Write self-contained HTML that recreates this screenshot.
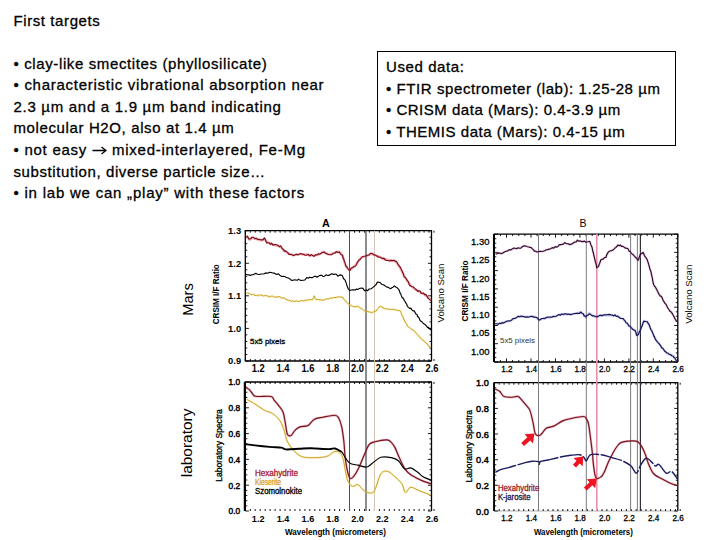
<!DOCTYPE html>
<html><head><meta charset="utf-8">
<style>
html,body{margin:0;padding:0;background:#fff;}
body{width:720px;height:540px;position:relative;overflow:hidden;font-family:"Liberation Sans",sans-serif;color:#000;}
.t{position:absolute;white-space:nowrap;font-size:15px;line-height:18px;transform-origin:0 0;-webkit-text-stroke:0.3px #000;}
.ar{display:inline-block;font-size:15px;}
#box{position:absolute;left:377px;top:51px;width:297px;height:92.5px;border:1px solid #000;}
svg{position:absolute;left:0;top:0;}
svg text{font-family:"Liberation Sans",sans-serif;}
svg text.b{stroke:#000;stroke-width:0.3px;}
svg text.b2{stroke:#000;stroke-width:0.45px;}
svg text.r{stroke:#a01c2c;stroke-width:0.3px;}
svg text.y{stroke:#d8a020;stroke-width:0.3px;}
svg text.n{stroke:#141450;stroke-width:0.3px;}
</style></head><body>
<div class="t" id="l0" style="left:13.5px;top:11.75px;letter-spacing:0.59px">First targets</div>
<div class="t" id="l1" style="left:13.5px;top:54.8px;letter-spacing:0.62px">• clay-like smectites (phyllosilicate)</div>
<div class="t" id="l2" style="left:13.5px;top:76.35px;letter-spacing:0.73px">• characteristic vibrational absorption near</div>
<div class="t" id="l3" style="left:13.5px;top:97.9px;letter-spacing:0.71px">2.3 µm and a 1.9 µm band indicating</div>
<div class="t" id="l4" style="left:13.5px;top:119.45px;letter-spacing:0.62px">molecular H2O, also at 1.4 µm</div>
<div class="t" id="l5" style="left:13.5px;top:141px;letter-spacing:0.75px">• not easy <svg style="position:static;display:inline-block;vertical-align:0px" width="15" height="9" viewBox="0 0 15 9"><path d="M0.5 4.5H14M9.5 1L14 4.5L9.5 8" fill="none" stroke="#000" stroke-width="1.3"/></svg> mixed-interlayered, Fe-Mg</div>
<div class="t" id="l6" style="left:13.5px;top:162.55px;letter-spacing:0.59px">substitution, diverse particle size…</div>
<div class="t" id="l7" style="left:13.5px;top:184.1px;letter-spacing:0.78px">• in lab we can „play” with these factors</div>
<div id="box"></div>
<div class="t" id="b0" style="left:386px;top:58px;letter-spacing:0.59px">Used data:</div>
<div class="t" id="b1" style="left:386px;top:79.5px;letter-spacing:0.58px">• FTIR spectrometer (lab): 1.25-28 µm</div>
<div class="t" id="b2" style="left:386px;top:101px;letter-spacing:0.51px">• CRISM data (Mars): 0.4-3.9 µm</div>
<div class="t" id="b3" style="left:386px;top:122.5px;letter-spacing:0.53px">• THEMIS data (Mars): 0.4-15 µm</div>
<svg width="720" height="540" viewBox="0 0 720 540">
<g stroke="#000" stroke-width="0.9">
<path d="M245.3 361.0V230.7H431.5V361.0" fill="none" stroke="#000" stroke-width="1.3"/>
<line x1="245.3" y1="361.0" x2="431.5" y2="361.0" stroke="#000" stroke-width="1.3"/>
<line x1="245.3" y1="361.0" x2="248.9" y2="361.0"/>
<line x1="431.5" y1="361.0" x2="427.9" y2="361.0"/>
<line x1="245.3" y1="354.5" x2="247.3" y2="354.5"/>
<line x1="431.5" y1="354.5" x2="429.5" y2="354.5"/>
<line x1="245.3" y1="348.0" x2="247.3" y2="348.0"/>
<line x1="431.5" y1="348.0" x2="429.5" y2="348.0"/>
<line x1="245.3" y1="341.5" x2="247.3" y2="341.5"/>
<line x1="431.5" y1="341.5" x2="429.5" y2="341.5"/>
<line x1="245.3" y1="334.9" x2="247.3" y2="334.9"/>
<line x1="431.5" y1="334.9" x2="429.5" y2="334.9"/>
<line x1="245.3" y1="328.4" x2="248.9" y2="328.4"/>
<line x1="431.5" y1="328.4" x2="427.9" y2="328.4"/>
<line x1="245.3" y1="321.9" x2="247.3" y2="321.9"/>
<line x1="431.5" y1="321.9" x2="429.5" y2="321.9"/>
<line x1="245.3" y1="315.4" x2="247.3" y2="315.4"/>
<line x1="431.5" y1="315.4" x2="429.5" y2="315.4"/>
<line x1="245.3" y1="308.9" x2="247.3" y2="308.9"/>
<line x1="431.5" y1="308.9" x2="429.5" y2="308.9"/>
<line x1="245.3" y1="302.4" x2="247.3" y2="302.4"/>
<line x1="431.5" y1="302.4" x2="429.5" y2="302.4"/>
<line x1="245.3" y1="295.8" x2="248.9" y2="295.8"/>
<line x1="431.5" y1="295.8" x2="427.9" y2="295.8"/>
<line x1="245.3" y1="289.3" x2="247.3" y2="289.3"/>
<line x1="431.5" y1="289.3" x2="429.5" y2="289.3"/>
<line x1="245.3" y1="282.8" x2="247.3" y2="282.8"/>
<line x1="431.5" y1="282.8" x2="429.5" y2="282.8"/>
<line x1="245.3" y1="276.3" x2="247.3" y2="276.3"/>
<line x1="431.5" y1="276.3" x2="429.5" y2="276.3"/>
<line x1="245.3" y1="269.8" x2="247.3" y2="269.8"/>
<line x1="431.5" y1="269.8" x2="429.5" y2="269.8"/>
<line x1="245.3" y1="263.3" x2="248.9" y2="263.3"/>
<line x1="431.5" y1="263.3" x2="427.9" y2="263.3"/>
<line x1="245.3" y1="256.8" x2="247.3" y2="256.8"/>
<line x1="431.5" y1="256.8" x2="429.5" y2="256.8"/>
<line x1="245.3" y1="250.2" x2="247.3" y2="250.2"/>
<line x1="431.5" y1="250.2" x2="429.5" y2="250.2"/>
<line x1="245.3" y1="243.7" x2="247.3" y2="243.7"/>
<line x1="431.5" y1="243.7" x2="429.5" y2="243.7"/>
<line x1="245.3" y1="237.2" x2="247.3" y2="237.2"/>
<line x1="431.5" y1="237.2" x2="429.5" y2="237.2"/>
<line x1="245.3" y1="230.7" x2="248.9" y2="230.7"/>
<line x1="431.5" y1="230.7" x2="427.9" y2="230.7"/>
<line x1="245.3" y1="361.0" x2="245.3" y2="359.0"/>
<line x1="245.3" y1="230.7" x2="245.3" y2="232.7"/>
<line x1="250.3" y1="361.0" x2="250.3" y2="359.0"/>
<line x1="250.3" y1="230.7" x2="250.3" y2="232.7"/>
<line x1="255.2" y1="361.0" x2="255.2" y2="359.0"/>
<line x1="255.2" y1="230.7" x2="255.2" y2="232.7"/>
<line x1="260.2" y1="361.0" x2="260.2" y2="359.0"/>
<line x1="260.2" y1="230.7" x2="260.2" y2="232.7"/>
<line x1="265.2" y1="361.0" x2="265.2" y2="359.0"/>
<line x1="265.2" y1="230.7" x2="265.2" y2="232.7"/>
<line x1="270.1" y1="361.0" x2="270.1" y2="359.0"/>
<line x1="270.1" y1="230.7" x2="270.1" y2="232.7"/>
<line x1="275.1" y1="361.0" x2="275.1" y2="359.0"/>
<line x1="275.1" y1="230.7" x2="275.1" y2="232.7"/>
<line x1="280.1" y1="361.0" x2="280.1" y2="359.0"/>
<line x1="280.1" y1="230.7" x2="280.1" y2="232.7"/>
<line x1="285.0" y1="361.0" x2="285.0" y2="359.0"/>
<line x1="285.0" y1="230.7" x2="285.0" y2="232.7"/>
<line x1="290.0" y1="361.0" x2="290.0" y2="359.0"/>
<line x1="290.0" y1="230.7" x2="290.0" y2="232.7"/>
<line x1="295.0" y1="361.0" x2="295.0" y2="359.0"/>
<line x1="295.0" y1="230.7" x2="295.0" y2="232.7"/>
<line x1="299.9" y1="361.0" x2="299.9" y2="359.0"/>
<line x1="299.9" y1="230.7" x2="299.9" y2="232.7"/>
<line x1="304.9" y1="361.0" x2="304.9" y2="359.0"/>
<line x1="304.9" y1="230.7" x2="304.9" y2="232.7"/>
<line x1="309.8" y1="361.0" x2="309.8" y2="359.0"/>
<line x1="309.8" y1="230.7" x2="309.8" y2="232.7"/>
<line x1="314.8" y1="361.0" x2="314.8" y2="359.0"/>
<line x1="314.8" y1="230.7" x2="314.8" y2="232.7"/>
<line x1="319.8" y1="361.0" x2="319.8" y2="359.0"/>
<line x1="319.8" y1="230.7" x2="319.8" y2="232.7"/>
<line x1="324.7" y1="361.0" x2="324.7" y2="359.0"/>
<line x1="324.7" y1="230.7" x2="324.7" y2="232.7"/>
<line x1="329.7" y1="361.0" x2="329.7" y2="359.0"/>
<line x1="329.7" y1="230.7" x2="329.7" y2="232.7"/>
<line x1="334.7" y1="361.0" x2="334.7" y2="359.0"/>
<line x1="334.7" y1="230.7" x2="334.7" y2="232.7"/>
<line x1="339.6" y1="361.0" x2="339.6" y2="359.0"/>
<line x1="339.6" y1="230.7" x2="339.6" y2="232.7"/>
<line x1="344.6" y1="361.0" x2="344.6" y2="359.0"/>
<line x1="344.6" y1="230.7" x2="344.6" y2="232.7"/>
<line x1="349.6" y1="361.0" x2="349.6" y2="359.0"/>
<line x1="349.6" y1="230.7" x2="349.6" y2="232.7"/>
<line x1="354.5" y1="361.0" x2="354.5" y2="359.0"/>
<line x1="354.5" y1="230.7" x2="354.5" y2="232.7"/>
<line x1="359.5" y1="361.0" x2="359.5" y2="359.0"/>
<line x1="359.5" y1="230.7" x2="359.5" y2="232.7"/>
<line x1="364.5" y1="361.0" x2="364.5" y2="359.0"/>
<line x1="364.5" y1="230.7" x2="364.5" y2="232.7"/>
<line x1="369.4" y1="361.0" x2="369.4" y2="359.0"/>
<line x1="369.4" y1="230.7" x2="369.4" y2="232.7"/>
<line x1="374.4" y1="361.0" x2="374.4" y2="359.0"/>
<line x1="374.4" y1="230.7" x2="374.4" y2="232.7"/>
<line x1="379.4" y1="361.0" x2="379.4" y2="359.0"/>
<line x1="379.4" y1="230.7" x2="379.4" y2="232.7"/>
<line x1="384.3" y1="361.0" x2="384.3" y2="359.0"/>
<line x1="384.3" y1="230.7" x2="384.3" y2="232.7"/>
<line x1="389.3" y1="361.0" x2="389.3" y2="359.0"/>
<line x1="389.3" y1="230.7" x2="389.3" y2="232.7"/>
<line x1="394.3" y1="361.0" x2="394.3" y2="359.0"/>
<line x1="394.3" y1="230.7" x2="394.3" y2="232.7"/>
<line x1="399.2" y1="361.0" x2="399.2" y2="359.0"/>
<line x1="399.2" y1="230.7" x2="399.2" y2="232.7"/>
<line x1="404.2" y1="361.0" x2="404.2" y2="359.0"/>
<line x1="404.2" y1="230.7" x2="404.2" y2="232.7"/>
<line x1="409.2" y1="361.0" x2="409.2" y2="359.0"/>
<line x1="409.2" y1="230.7" x2="409.2" y2="232.7"/>
<line x1="414.1" y1="361.0" x2="414.1" y2="359.0"/>
<line x1="414.1" y1="230.7" x2="414.1" y2="232.7"/>
<line x1="419.1" y1="361.0" x2="419.1" y2="359.0"/>
<line x1="419.1" y1="230.7" x2="419.1" y2="232.7"/>
<line x1="424.1" y1="361.0" x2="424.1" y2="359.0"/>
<line x1="424.1" y1="230.7" x2="424.1" y2="232.7"/>
<line x1="429.0" y1="361.0" x2="429.0" y2="359.0"/>
<line x1="429.0" y1="230.7" x2="429.0" y2="232.7"/>
<line x1="434.0" y1="361.0" x2="434.0" y2="359.0"/>
<line x1="434.0" y1="230.7" x2="434.0" y2="232.7"/>
<path d="M245.3 511.0V382.0H431.5V511.0" fill="none" stroke="#000" stroke-width="1.3"/>
<line x1="244.85000000000002" y1="382.0" x2="244.85000000000002" y2="511.0" stroke="#000" stroke-width="2.2"/>
<line x1="245.3" y1="511.0" x2="248.9" y2="511.0"/>
<line x1="431.5" y1="511.0" x2="427.9" y2="511.0"/>
<line x1="245.3" y1="505.8" x2="247.3" y2="505.8"/>
<line x1="431.5" y1="505.8" x2="429.5" y2="505.8"/>
<line x1="245.3" y1="500.7" x2="247.3" y2="500.7"/>
<line x1="431.5" y1="500.7" x2="429.5" y2="500.7"/>
<line x1="245.3" y1="495.5" x2="247.3" y2="495.5"/>
<line x1="431.5" y1="495.5" x2="429.5" y2="495.5"/>
<line x1="245.3" y1="490.4" x2="247.3" y2="490.4"/>
<line x1="431.5" y1="490.4" x2="429.5" y2="490.4"/>
<line x1="245.3" y1="485.2" x2="248.9" y2="485.2"/>
<line x1="431.5" y1="485.2" x2="427.9" y2="485.2"/>
<line x1="245.3" y1="480.0" x2="247.3" y2="480.0"/>
<line x1="431.5" y1="480.0" x2="429.5" y2="480.0"/>
<line x1="245.3" y1="474.9" x2="247.3" y2="474.9"/>
<line x1="431.5" y1="474.9" x2="429.5" y2="474.9"/>
<line x1="245.3" y1="469.7" x2="247.3" y2="469.7"/>
<line x1="431.5" y1="469.7" x2="429.5" y2="469.7"/>
<line x1="245.3" y1="464.6" x2="247.3" y2="464.6"/>
<line x1="431.5" y1="464.6" x2="429.5" y2="464.6"/>
<line x1="245.3" y1="459.4" x2="248.9" y2="459.4"/>
<line x1="431.5" y1="459.4" x2="427.9" y2="459.4"/>
<line x1="245.3" y1="454.2" x2="247.3" y2="454.2"/>
<line x1="431.5" y1="454.2" x2="429.5" y2="454.2"/>
<line x1="245.3" y1="449.1" x2="247.3" y2="449.1"/>
<line x1="431.5" y1="449.1" x2="429.5" y2="449.1"/>
<line x1="245.3" y1="443.9" x2="247.3" y2="443.9"/>
<line x1="431.5" y1="443.9" x2="429.5" y2="443.9"/>
<line x1="245.3" y1="438.8" x2="247.3" y2="438.8"/>
<line x1="431.5" y1="438.8" x2="429.5" y2="438.8"/>
<line x1="245.3" y1="433.6" x2="248.9" y2="433.6"/>
<line x1="431.5" y1="433.6" x2="427.9" y2="433.6"/>
<line x1="245.3" y1="428.4" x2="247.3" y2="428.4"/>
<line x1="431.5" y1="428.4" x2="429.5" y2="428.4"/>
<line x1="245.3" y1="423.3" x2="247.3" y2="423.3"/>
<line x1="431.5" y1="423.3" x2="429.5" y2="423.3"/>
<line x1="245.3" y1="418.1" x2="247.3" y2="418.1"/>
<line x1="431.5" y1="418.1" x2="429.5" y2="418.1"/>
<line x1="245.3" y1="413.0" x2="247.3" y2="413.0"/>
<line x1="431.5" y1="413.0" x2="429.5" y2="413.0"/>
<line x1="245.3" y1="407.8" x2="248.9" y2="407.8"/>
<line x1="431.5" y1="407.8" x2="427.9" y2="407.8"/>
<line x1="245.3" y1="402.6" x2="247.3" y2="402.6"/>
<line x1="431.5" y1="402.6" x2="429.5" y2="402.6"/>
<line x1="245.3" y1="397.5" x2="247.3" y2="397.5"/>
<line x1="431.5" y1="397.5" x2="429.5" y2="397.5"/>
<line x1="245.3" y1="392.3" x2="247.3" y2="392.3"/>
<line x1="431.5" y1="392.3" x2="429.5" y2="392.3"/>
<line x1="245.3" y1="387.2" x2="247.3" y2="387.2"/>
<line x1="431.5" y1="387.2" x2="429.5" y2="387.2"/>
<line x1="245.3" y1="382.0" x2="248.9" y2="382.0"/>
<line x1="431.5" y1="382.0" x2="427.9" y2="382.0"/>
<line x1="245.3" y1="511.0" x2="245.3" y2="509.0"/>
<line x1="245.3" y1="382.0" x2="245.3" y2="384.0"/>
<line x1="250.3" y1="511.0" x2="250.3" y2="509.0"/>
<line x1="250.3" y1="382.0" x2="250.3" y2="384.0"/>
<line x1="255.2" y1="511.0" x2="255.2" y2="509.0"/>
<line x1="255.2" y1="382.0" x2="255.2" y2="384.0"/>
<line x1="260.2" y1="511.0" x2="260.2" y2="509.0"/>
<line x1="260.2" y1="382.0" x2="260.2" y2="384.0"/>
<line x1="265.2" y1="511.0" x2="265.2" y2="509.0"/>
<line x1="265.2" y1="382.0" x2="265.2" y2="384.0"/>
<line x1="270.1" y1="511.0" x2="270.1" y2="509.0"/>
<line x1="270.1" y1="382.0" x2="270.1" y2="384.0"/>
<line x1="275.1" y1="511.0" x2="275.1" y2="509.0"/>
<line x1="275.1" y1="382.0" x2="275.1" y2="384.0"/>
<line x1="280.1" y1="511.0" x2="280.1" y2="509.0"/>
<line x1="280.1" y1="382.0" x2="280.1" y2="384.0"/>
<line x1="285.0" y1="511.0" x2="285.0" y2="509.0"/>
<line x1="285.0" y1="382.0" x2="285.0" y2="384.0"/>
<line x1="290.0" y1="511.0" x2="290.0" y2="509.0"/>
<line x1="290.0" y1="382.0" x2="290.0" y2="384.0"/>
<line x1="295.0" y1="511.0" x2="295.0" y2="509.0"/>
<line x1="295.0" y1="382.0" x2="295.0" y2="384.0"/>
<line x1="299.9" y1="511.0" x2="299.9" y2="509.0"/>
<line x1="299.9" y1="382.0" x2="299.9" y2="384.0"/>
<line x1="304.9" y1="511.0" x2="304.9" y2="509.0"/>
<line x1="304.9" y1="382.0" x2="304.9" y2="384.0"/>
<line x1="309.8" y1="511.0" x2="309.8" y2="509.0"/>
<line x1="309.8" y1="382.0" x2="309.8" y2="384.0"/>
<line x1="314.8" y1="511.0" x2="314.8" y2="509.0"/>
<line x1="314.8" y1="382.0" x2="314.8" y2="384.0"/>
<line x1="319.8" y1="511.0" x2="319.8" y2="509.0"/>
<line x1="319.8" y1="382.0" x2="319.8" y2="384.0"/>
<line x1="324.7" y1="511.0" x2="324.7" y2="509.0"/>
<line x1="324.7" y1="382.0" x2="324.7" y2="384.0"/>
<line x1="329.7" y1="511.0" x2="329.7" y2="509.0"/>
<line x1="329.7" y1="382.0" x2="329.7" y2="384.0"/>
<line x1="334.7" y1="511.0" x2="334.7" y2="509.0"/>
<line x1="334.7" y1="382.0" x2="334.7" y2="384.0"/>
<line x1="339.6" y1="511.0" x2="339.6" y2="509.0"/>
<line x1="339.6" y1="382.0" x2="339.6" y2="384.0"/>
<line x1="344.6" y1="511.0" x2="344.6" y2="509.0"/>
<line x1="344.6" y1="382.0" x2="344.6" y2="384.0"/>
<line x1="349.6" y1="511.0" x2="349.6" y2="509.0"/>
<line x1="349.6" y1="382.0" x2="349.6" y2="384.0"/>
<line x1="354.5" y1="511.0" x2="354.5" y2="509.0"/>
<line x1="354.5" y1="382.0" x2="354.5" y2="384.0"/>
<line x1="359.5" y1="511.0" x2="359.5" y2="509.0"/>
<line x1="359.5" y1="382.0" x2="359.5" y2="384.0"/>
<line x1="364.5" y1="511.0" x2="364.5" y2="509.0"/>
<line x1="364.5" y1="382.0" x2="364.5" y2="384.0"/>
<line x1="369.4" y1="511.0" x2="369.4" y2="509.0"/>
<line x1="369.4" y1="382.0" x2="369.4" y2="384.0"/>
<line x1="374.4" y1="511.0" x2="374.4" y2="509.0"/>
<line x1="374.4" y1="382.0" x2="374.4" y2="384.0"/>
<line x1="379.4" y1="511.0" x2="379.4" y2="509.0"/>
<line x1="379.4" y1="382.0" x2="379.4" y2="384.0"/>
<line x1="384.3" y1="511.0" x2="384.3" y2="509.0"/>
<line x1="384.3" y1="382.0" x2="384.3" y2="384.0"/>
<line x1="389.3" y1="511.0" x2="389.3" y2="509.0"/>
<line x1="389.3" y1="382.0" x2="389.3" y2="384.0"/>
<line x1="394.3" y1="511.0" x2="394.3" y2="509.0"/>
<line x1="394.3" y1="382.0" x2="394.3" y2="384.0"/>
<line x1="399.2" y1="511.0" x2="399.2" y2="509.0"/>
<line x1="399.2" y1="382.0" x2="399.2" y2="384.0"/>
<line x1="404.2" y1="511.0" x2="404.2" y2="509.0"/>
<line x1="404.2" y1="382.0" x2="404.2" y2="384.0"/>
<line x1="409.2" y1="511.0" x2="409.2" y2="509.0"/>
<line x1="409.2" y1="382.0" x2="409.2" y2="384.0"/>
<line x1="414.1" y1="511.0" x2="414.1" y2="509.0"/>
<line x1="414.1" y1="382.0" x2="414.1" y2="384.0"/>
<line x1="419.1" y1="511.0" x2="419.1" y2="509.0"/>
<line x1="419.1" y1="382.0" x2="419.1" y2="384.0"/>
<line x1="424.1" y1="511.0" x2="424.1" y2="509.0"/>
<line x1="424.1" y1="382.0" x2="424.1" y2="384.0"/>
<line x1="429.0" y1="511.0" x2="429.0" y2="509.0"/>
<line x1="429.0" y1="382.0" x2="429.0" y2="384.0"/>
<line x1="434.0" y1="511.0" x2="434.0" y2="509.0"/>
<line x1="434.0" y1="382.0" x2="434.0" y2="384.0"/>
<path d="M494.3 362.0V234.1H677.8V362.0" fill="none" stroke="#000" stroke-width="1.3"/>
<line x1="493.95" y1="234.1" x2="493.95" y2="362.0" stroke="#000" stroke-width="2"/>
<line x1="494.3" y1="362.0" x2="677.8" y2="362.0" stroke="#000" stroke-width="1.3"/>
<line x1="494.3" y1="362.0" x2="497.90000000000003" y2="362.0"/>
<line x1="677.8" y1="362.0" x2="674.1999999999999" y2="362.0"/>
<line x1="494.3" y1="357.4" x2="496.3" y2="357.4"/>
<line x1="677.8" y1="357.4" x2="675.8" y2="357.4"/>
<line x1="494.3" y1="352.9" x2="496.3" y2="352.9"/>
<line x1="677.8" y1="352.9" x2="675.8" y2="352.9"/>
<line x1="494.3" y1="348.3" x2="496.3" y2="348.3"/>
<line x1="677.8" y1="348.3" x2="675.8" y2="348.3"/>
<line x1="494.3" y1="343.7" x2="497.90000000000003" y2="343.7"/>
<line x1="677.8" y1="343.7" x2="674.1999999999999" y2="343.7"/>
<line x1="494.3" y1="339.2" x2="496.3" y2="339.2"/>
<line x1="677.8" y1="339.2" x2="675.8" y2="339.2"/>
<line x1="494.3" y1="334.6" x2="496.3" y2="334.6"/>
<line x1="677.8" y1="334.6" x2="675.8" y2="334.6"/>
<line x1="494.3" y1="330.0" x2="496.3" y2="330.0"/>
<line x1="677.8" y1="330.0" x2="675.8" y2="330.0"/>
<line x1="494.3" y1="325.5" x2="497.90000000000003" y2="325.5"/>
<line x1="677.8" y1="325.5" x2="674.1999999999999" y2="325.5"/>
<line x1="494.3" y1="320.9" x2="496.3" y2="320.9"/>
<line x1="677.8" y1="320.9" x2="675.8" y2="320.9"/>
<line x1="494.3" y1="316.3" x2="496.3" y2="316.3"/>
<line x1="677.8" y1="316.3" x2="675.8" y2="316.3"/>
<line x1="494.3" y1="311.8" x2="496.3" y2="311.8"/>
<line x1="677.8" y1="311.8" x2="675.8" y2="311.8"/>
<line x1="494.3" y1="307.2" x2="497.90000000000003" y2="307.2"/>
<line x1="677.8" y1="307.2" x2="674.1999999999999" y2="307.2"/>
<line x1="494.3" y1="302.6" x2="496.3" y2="302.6"/>
<line x1="677.8" y1="302.6" x2="675.8" y2="302.6"/>
<line x1="494.3" y1="298.1" x2="496.3" y2="298.1"/>
<line x1="677.8" y1="298.1" x2="675.8" y2="298.1"/>
<line x1="494.3" y1="293.5" x2="496.3" y2="293.5"/>
<line x1="677.8" y1="293.5" x2="675.8" y2="293.5"/>
<line x1="494.3" y1="288.9" x2="497.90000000000003" y2="288.9"/>
<line x1="677.8" y1="288.9" x2="674.1999999999999" y2="288.9"/>
<line x1="494.3" y1="284.3" x2="496.3" y2="284.3"/>
<line x1="677.8" y1="284.3" x2="675.8" y2="284.3"/>
<line x1="494.3" y1="279.8" x2="496.3" y2="279.8"/>
<line x1="677.8" y1="279.8" x2="675.8" y2="279.8"/>
<line x1="494.3" y1="275.2" x2="496.3" y2="275.2"/>
<line x1="677.8" y1="275.2" x2="675.8" y2="275.2"/>
<line x1="494.3" y1="270.6" x2="497.90000000000003" y2="270.6"/>
<line x1="677.8" y1="270.6" x2="674.1999999999999" y2="270.6"/>
<line x1="494.3" y1="266.1" x2="496.3" y2="266.1"/>
<line x1="677.8" y1="266.1" x2="675.8" y2="266.1"/>
<line x1="494.3" y1="261.5" x2="496.3" y2="261.5"/>
<line x1="677.8" y1="261.5" x2="675.8" y2="261.5"/>
<line x1="494.3" y1="256.9" x2="496.3" y2="256.9"/>
<line x1="677.8" y1="256.9" x2="675.8" y2="256.9"/>
<line x1="494.3" y1="252.4" x2="497.90000000000003" y2="252.4"/>
<line x1="677.8" y1="252.4" x2="674.1999999999999" y2="252.4"/>
<line x1="494.3" y1="247.8" x2="496.3" y2="247.8"/>
<line x1="677.8" y1="247.8" x2="675.8" y2="247.8"/>
<line x1="494.3" y1="243.2" x2="496.3" y2="243.2"/>
<line x1="677.8" y1="243.2" x2="675.8" y2="243.2"/>
<line x1="494.3" y1="238.7" x2="496.3" y2="238.7"/>
<line x1="677.8" y1="238.7" x2="675.8" y2="238.7"/>
<line x1="494.3" y1="234.1" x2="497.90000000000003" y2="234.1"/>
<line x1="677.8" y1="234.1" x2="674.1999999999999" y2="234.1"/>
<line x1="494.3" y1="362.0" x2="494.3" y2="360.0"/>
<line x1="494.3" y1="234.1" x2="494.3" y2="236.1"/>
<line x1="500.4" y1="362.0" x2="500.4" y2="360.0"/>
<line x1="500.4" y1="234.1" x2="500.4" y2="236.1"/>
<line x1="506.5" y1="362.0" x2="506.5" y2="358.4"/>
<line x1="506.5" y1="234.1" x2="506.5" y2="237.7"/>
<line x1="512.6" y1="362.0" x2="512.6" y2="360.0"/>
<line x1="512.6" y1="234.1" x2="512.6" y2="236.1"/>
<line x1="518.8" y1="362.0" x2="518.8" y2="360.0"/>
<line x1="518.8" y1="234.1" x2="518.8" y2="236.1"/>
<line x1="524.9" y1="362.0" x2="524.9" y2="360.0"/>
<line x1="524.9" y1="234.1" x2="524.9" y2="236.1"/>
<line x1="531.0" y1="362.0" x2="531.0" y2="358.4"/>
<line x1="531.0" y1="234.1" x2="531.0" y2="237.7"/>
<line x1="537.1" y1="362.0" x2="537.1" y2="360.0"/>
<line x1="537.1" y1="234.1" x2="537.1" y2="236.1"/>
<line x1="543.2" y1="362.0" x2="543.2" y2="360.0"/>
<line x1="543.2" y1="234.1" x2="543.2" y2="236.1"/>
<line x1="549.4" y1="362.0" x2="549.4" y2="360.0"/>
<line x1="549.4" y1="234.1" x2="549.4" y2="236.1"/>
<line x1="555.5" y1="362.0" x2="555.5" y2="358.4"/>
<line x1="555.5" y1="234.1" x2="555.5" y2="237.7"/>
<line x1="561.6" y1="362.0" x2="561.6" y2="360.0"/>
<line x1="561.6" y1="234.1" x2="561.6" y2="236.1"/>
<line x1="567.7" y1="362.0" x2="567.7" y2="360.0"/>
<line x1="567.7" y1="234.1" x2="567.7" y2="236.1"/>
<line x1="573.8" y1="362.0" x2="573.8" y2="360.0"/>
<line x1="573.8" y1="234.1" x2="573.8" y2="236.1"/>
<line x1="579.9" y1="362.0" x2="579.9" y2="358.4"/>
<line x1="579.9" y1="234.1" x2="579.9" y2="237.7"/>
<line x1="586.0" y1="362.0" x2="586.0" y2="360.0"/>
<line x1="586.0" y1="234.1" x2="586.0" y2="236.1"/>
<line x1="592.2" y1="362.0" x2="592.2" y2="360.0"/>
<line x1="592.2" y1="234.1" x2="592.2" y2="236.1"/>
<line x1="598.3" y1="362.0" x2="598.3" y2="360.0"/>
<line x1="598.3" y1="234.1" x2="598.3" y2="236.1"/>
<line x1="604.4" y1="362.0" x2="604.4" y2="358.4"/>
<line x1="604.4" y1="234.1" x2="604.4" y2="237.7"/>
<line x1="610.5" y1="362.0" x2="610.5" y2="360.0"/>
<line x1="610.5" y1="234.1" x2="610.5" y2="236.1"/>
<line x1="616.6" y1="362.0" x2="616.6" y2="360.0"/>
<line x1="616.6" y1="234.1" x2="616.6" y2="236.1"/>
<line x1="622.8" y1="362.0" x2="622.8" y2="360.0"/>
<line x1="622.8" y1="234.1" x2="622.8" y2="236.1"/>
<line x1="628.9" y1="362.0" x2="628.9" y2="358.4"/>
<line x1="628.9" y1="234.1" x2="628.9" y2="237.7"/>
<line x1="635.0" y1="362.0" x2="635.0" y2="360.0"/>
<line x1="635.0" y1="234.1" x2="635.0" y2="236.1"/>
<line x1="641.1" y1="362.0" x2="641.1" y2="360.0"/>
<line x1="641.1" y1="234.1" x2="641.1" y2="236.1"/>
<line x1="647.2" y1="362.0" x2="647.2" y2="360.0"/>
<line x1="647.2" y1="234.1" x2="647.2" y2="236.1"/>
<line x1="653.3" y1="362.0" x2="653.3" y2="358.4"/>
<line x1="653.3" y1="234.1" x2="653.3" y2="237.7"/>
<line x1="659.4" y1="362.0" x2="659.4" y2="360.0"/>
<line x1="659.4" y1="234.1" x2="659.4" y2="236.1"/>
<line x1="665.6" y1="362.0" x2="665.6" y2="360.0"/>
<line x1="665.6" y1="234.1" x2="665.6" y2="236.1"/>
<line x1="671.7" y1="362.0" x2="671.7" y2="360.0"/>
<line x1="671.7" y1="234.1" x2="671.7" y2="236.1"/>
<line x1="677.8" y1="362.0" x2="677.8" y2="358.4"/>
<line x1="677.8" y1="234.1" x2="677.8" y2="237.7"/>
<path d="M494.3 511.0V382.7H677.8V511.0" fill="none" stroke="#000" stroke-width="1.3"/>
<line x1="494.05" y1="382.7" x2="494.05" y2="511.0" stroke="#000" stroke-width="1.8"/>
<line x1="494.3" y1="511.0" x2="677.8" y2="511.0" stroke="#b0b0b0" stroke-width="1"/>
<line x1="494.3" y1="511.0" x2="497.90000000000003" y2="511.0"/>
<line x1="677.8" y1="511.0" x2="674.1999999999999" y2="511.0"/>
<line x1="494.3" y1="505.9" x2="496.3" y2="505.9"/>
<line x1="677.8" y1="505.9" x2="675.8" y2="505.9"/>
<line x1="494.3" y1="500.7" x2="496.3" y2="500.7"/>
<line x1="677.8" y1="500.7" x2="675.8" y2="500.7"/>
<line x1="494.3" y1="495.6" x2="496.3" y2="495.6"/>
<line x1="677.8" y1="495.6" x2="675.8" y2="495.6"/>
<line x1="494.3" y1="490.5" x2="496.3" y2="490.5"/>
<line x1="677.8" y1="490.5" x2="675.8" y2="490.5"/>
<line x1="494.3" y1="485.3" x2="497.90000000000003" y2="485.3"/>
<line x1="677.8" y1="485.3" x2="674.1999999999999" y2="485.3"/>
<line x1="494.3" y1="480.2" x2="496.3" y2="480.2"/>
<line x1="677.8" y1="480.2" x2="675.8" y2="480.2"/>
<line x1="494.3" y1="475.1" x2="496.3" y2="475.1"/>
<line x1="677.8" y1="475.1" x2="675.8" y2="475.1"/>
<line x1="494.3" y1="469.9" x2="496.3" y2="469.9"/>
<line x1="677.8" y1="469.9" x2="675.8" y2="469.9"/>
<line x1="494.3" y1="464.8" x2="496.3" y2="464.8"/>
<line x1="677.8" y1="464.8" x2="675.8" y2="464.8"/>
<line x1="494.3" y1="459.7" x2="497.90000000000003" y2="459.7"/>
<line x1="677.8" y1="459.7" x2="674.1999999999999" y2="459.7"/>
<line x1="494.3" y1="454.5" x2="496.3" y2="454.5"/>
<line x1="677.8" y1="454.5" x2="675.8" y2="454.5"/>
<line x1="494.3" y1="449.4" x2="496.3" y2="449.4"/>
<line x1="677.8" y1="449.4" x2="675.8" y2="449.4"/>
<line x1="494.3" y1="444.3" x2="496.3" y2="444.3"/>
<line x1="677.8" y1="444.3" x2="675.8" y2="444.3"/>
<line x1="494.3" y1="439.2" x2="496.3" y2="439.2"/>
<line x1="677.8" y1="439.2" x2="675.8" y2="439.2"/>
<line x1="494.3" y1="434.0" x2="497.90000000000003" y2="434.0"/>
<line x1="677.8" y1="434.0" x2="674.1999999999999" y2="434.0"/>
<line x1="494.3" y1="428.9" x2="496.3" y2="428.9"/>
<line x1="677.8" y1="428.9" x2="675.8" y2="428.9"/>
<line x1="494.3" y1="423.8" x2="496.3" y2="423.8"/>
<line x1="677.8" y1="423.8" x2="675.8" y2="423.8"/>
<line x1="494.3" y1="418.6" x2="496.3" y2="418.6"/>
<line x1="677.8" y1="418.6" x2="675.8" y2="418.6"/>
<line x1="494.3" y1="413.5" x2="496.3" y2="413.5"/>
<line x1="677.8" y1="413.5" x2="675.8" y2="413.5"/>
<line x1="494.3" y1="408.4" x2="497.90000000000003" y2="408.4"/>
<line x1="677.8" y1="408.4" x2="674.1999999999999" y2="408.4"/>
<line x1="494.3" y1="403.2" x2="496.3" y2="403.2"/>
<line x1="677.8" y1="403.2" x2="675.8" y2="403.2"/>
<line x1="494.3" y1="398.1" x2="496.3" y2="398.1"/>
<line x1="677.8" y1="398.1" x2="675.8" y2="398.1"/>
<line x1="494.3" y1="393.0" x2="496.3" y2="393.0"/>
<line x1="677.8" y1="393.0" x2="675.8" y2="393.0"/>
<line x1="494.3" y1="387.8" x2="496.3" y2="387.8"/>
<line x1="677.8" y1="387.8" x2="675.8" y2="387.8"/>
<line x1="494.3" y1="382.7" x2="497.90000000000003" y2="382.7"/>
<line x1="677.8" y1="382.7" x2="674.1999999999999" y2="382.7"/>
<line x1="494.3" y1="511.0" x2="494.3" y2="509.0"/>
<line x1="494.3" y1="382.7" x2="494.3" y2="384.7"/>
<line x1="499.2" y1="511.0" x2="499.2" y2="509.0"/>
<line x1="499.2" y1="382.7" x2="499.2" y2="384.7"/>
<line x1="504.1" y1="511.0" x2="504.1" y2="509.0"/>
<line x1="504.1" y1="382.7" x2="504.1" y2="384.7"/>
<line x1="509.0" y1="511.0" x2="509.0" y2="509.0"/>
<line x1="509.0" y1="382.7" x2="509.0" y2="384.7"/>
<line x1="513.9" y1="511.0" x2="513.9" y2="509.0"/>
<line x1="513.9" y1="382.7" x2="513.9" y2="384.7"/>
<line x1="518.8" y1="511.0" x2="518.8" y2="509.0"/>
<line x1="518.8" y1="382.7" x2="518.8" y2="384.7"/>
<line x1="523.7" y1="511.0" x2="523.7" y2="509.0"/>
<line x1="523.7" y1="382.7" x2="523.7" y2="384.7"/>
<line x1="528.6" y1="511.0" x2="528.6" y2="509.0"/>
<line x1="528.6" y1="382.7" x2="528.6" y2="384.7"/>
<line x1="533.4" y1="511.0" x2="533.4" y2="509.0"/>
<line x1="533.4" y1="382.7" x2="533.4" y2="384.7"/>
<line x1="538.3" y1="511.0" x2="538.3" y2="509.0"/>
<line x1="538.3" y1="382.7" x2="538.3" y2="384.7"/>
<line x1="543.2" y1="511.0" x2="543.2" y2="509.0"/>
<line x1="543.2" y1="382.7" x2="543.2" y2="384.7"/>
<line x1="548.1" y1="511.0" x2="548.1" y2="509.0"/>
<line x1="548.1" y1="382.7" x2="548.1" y2="384.7"/>
<line x1="553.0" y1="511.0" x2="553.0" y2="509.0"/>
<line x1="553.0" y1="382.7" x2="553.0" y2="384.7"/>
<line x1="557.9" y1="511.0" x2="557.9" y2="509.0"/>
<line x1="557.9" y1="382.7" x2="557.9" y2="384.7"/>
<line x1="562.8" y1="511.0" x2="562.8" y2="509.0"/>
<line x1="562.8" y1="382.7" x2="562.8" y2="384.7"/>
<line x1="567.7" y1="511.0" x2="567.7" y2="509.0"/>
<line x1="567.7" y1="382.7" x2="567.7" y2="384.7"/>
<line x1="572.6" y1="511.0" x2="572.6" y2="509.0"/>
<line x1="572.6" y1="382.7" x2="572.6" y2="384.7"/>
<line x1="577.5" y1="511.0" x2="577.5" y2="509.0"/>
<line x1="577.5" y1="382.7" x2="577.5" y2="384.7"/>
<line x1="582.4" y1="511.0" x2="582.4" y2="509.0"/>
<line x1="582.4" y1="382.7" x2="582.4" y2="384.7"/>
<line x1="587.3" y1="511.0" x2="587.3" y2="509.0"/>
<line x1="587.3" y1="382.7" x2="587.3" y2="384.7"/>
<line x1="592.2" y1="511.0" x2="592.2" y2="509.0"/>
<line x1="592.2" y1="382.7" x2="592.2" y2="384.7"/>
<line x1="597.1" y1="511.0" x2="597.1" y2="509.0"/>
<line x1="597.1" y1="382.7" x2="597.1" y2="384.7"/>
<line x1="602.0" y1="511.0" x2="602.0" y2="509.0"/>
<line x1="602.0" y1="382.7" x2="602.0" y2="384.7"/>
<line x1="606.8" y1="511.0" x2="606.8" y2="509.0"/>
<line x1="606.8" y1="382.7" x2="606.8" y2="384.7"/>
<line x1="611.7" y1="511.0" x2="611.7" y2="509.0"/>
<line x1="611.7" y1="382.7" x2="611.7" y2="384.7"/>
<line x1="616.6" y1="511.0" x2="616.6" y2="509.0"/>
<line x1="616.6" y1="382.7" x2="616.6" y2="384.7"/>
<line x1="621.5" y1="511.0" x2="621.5" y2="509.0"/>
<line x1="621.5" y1="382.7" x2="621.5" y2="384.7"/>
<line x1="626.4" y1="511.0" x2="626.4" y2="509.0"/>
<line x1="626.4" y1="382.7" x2="626.4" y2="384.7"/>
<line x1="631.3" y1="511.0" x2="631.3" y2="509.0"/>
<line x1="631.3" y1="382.7" x2="631.3" y2="384.7"/>
<line x1="636.2" y1="511.0" x2="636.2" y2="509.0"/>
<line x1="636.2" y1="382.7" x2="636.2" y2="384.7"/>
<line x1="641.1" y1="511.0" x2="641.1" y2="509.0"/>
<line x1="641.1" y1="382.7" x2="641.1" y2="384.7"/>
<line x1="646.0" y1="511.0" x2="646.0" y2="509.0"/>
<line x1="646.0" y1="382.7" x2="646.0" y2="384.7"/>
<line x1="650.9" y1="511.0" x2="650.9" y2="509.0"/>
<line x1="650.9" y1="382.7" x2="650.9" y2="384.7"/>
<line x1="655.8" y1="511.0" x2="655.8" y2="509.0"/>
<line x1="655.8" y1="382.7" x2="655.8" y2="384.7"/>
<line x1="660.7" y1="511.0" x2="660.7" y2="509.0"/>
<line x1="660.7" y1="382.7" x2="660.7" y2="384.7"/>
<line x1="665.6" y1="511.0" x2="665.6" y2="509.0"/>
<line x1="665.6" y1="382.7" x2="665.6" y2="384.7"/>
<line x1="670.5" y1="511.0" x2="670.5" y2="509.0"/>
<line x1="670.5" y1="382.7" x2="670.5" y2="384.7"/>
<line x1="675.4" y1="511.0" x2="675.4" y2="509.0"/>
<line x1="675.4" y1="382.7" x2="675.4" y2="384.7"/>
<line x1="680.2" y1="511.0" x2="680.2" y2="509.0"/>
<line x1="680.2" y1="382.7" x2="680.2" y2="384.7"/>
</g>
<line x1="349.5" y1="230.7" x2="349.5" y2="511.0" stroke="#7a3a48" stroke-width="1"/>
<line x1="366" y1="230.7" x2="366" y2="511.0" stroke="#6c7076" stroke-width="1.6"/>
<line x1="374.5" y1="230.7" x2="374.5" y2="511.0" stroke="#d8c4b0" stroke-width="1"/>
<line x1="538.5" y1="234.1" x2="538.5" y2="511.0" stroke="#7a7a80" stroke-width="1"/>
<line x1="586.3" y1="234.1" x2="586.3" y2="511.0" stroke="#7a7a80" stroke-width="1"/>
<line x1="596.8" y1="234.1" x2="596.8" y2="511.0" stroke="#e890a8" stroke-width="1.6"/>
<line x1="630.6" y1="234.1" x2="630.6" y2="511.0" stroke="#7a7a80" stroke-width="1"/>
<line x1="637.4" y1="234.1" x2="637.4" y2="511.0" stroke="#7a7a80" stroke-width="1"/>
<line x1="640.4" y1="234.1" x2="640.4" y2="511.0" stroke="#303038" stroke-width="1.2"/>
<g opacity="0.35">
<polyline points="246.7,236.1 249.6,239.8 251.9,237.6 256.3,239.1 260.7,240.6 264.4,238.6 266.7,242.0 274.1,245.0 280.7,246.5 284.4,251.0 288.9,253.9 293.3,255.4 299.3,253.9 306.7,254.6 314.1,255.8 318.5,254.6 323.0,251.7 328.9,254.6 336.3,252.4 339.4,251.7 342.4,255.4 345.4,265.0 347.5,268.5 349.1,270.2 351.3,268.7 355.7,265.0 360.9,257.6 365.8,256.5 370.6,253.9 378.0,256.1 383.9,259.0 391.3,260.6 395.7,261.3 400.2,268.0 404.6,276.9 410.6,285.7 416.5,290.2 422.4,293.1 426.9,296.1 431.3,300.6" fill="none" stroke="#e02030" stroke-width="2.5" stroke-linejoin="round"/>
<path d="M245.9 387.6C246.5 388.0 248.2 388.5 249.6 389.8C251.0 391.1 252.5 394.6 254.1 395.7C255.7 396.8 256.5 396.4 259.3 396.5C262.1 396.6 268.6 395.9 271.1 396.5C273.6 397.1 272.9 398.7 274.1 400.2C275.3 401.7 277.0 403.4 278.5 405.4C280.0 407.4 281.9 409.2 283.0 412.0C284.1 414.8 284.5 418.7 285.2 422.4C285.9 426.1 286.4 432.1 287.4 434.3C288.4 436.5 289.9 436.0 291.1 435.4C292.3 434.8 293.4 432.0 294.8 430.6C296.2 429.2 297.1 428.0 299.3 427.1C301.5 426.2 305.6 426.7 308.1 425.4C310.6 424.1 311.6 420.8 314.1 419.4C316.6 418.0 319.6 417.9 323.0 417.2C326.4 416.5 332.2 415.2 334.8 415.3C337.4 415.4 337.6 416.1 338.7 418.0C339.8 419.9 340.8 422.9 341.7 426.9C342.6 430.8 343.2 436.0 343.9 441.7C344.5 447.4 344.7 455.0 345.6 460.8C346.5 466.6 347.9 473.9 349.1 476.7C350.3 479.5 351.1 478.8 352.6 477.6C354.1 476.4 356.0 473.3 357.9 469.6C359.8 465.9 362.1 459.8 364.0 455.6C365.9 451.4 367.3 446.9 369.1 444.6C370.9 442.3 372.0 442.5 375.0 441.7C378.0 440.9 384.2 439.8 386.9 439.9C389.6 440.0 389.9 441.1 391.3 442.4C392.7 443.7 393.8 445.4 395.0 447.6C396.2 449.8 396.7 451.9 398.4 455.6C400.1 459.3 403.0 466.2 405.4 469.6C407.8 473.0 409.6 473.9 412.5 475.8C415.4 477.7 419.9 479.8 423.0 481.1C426.1 482.4 429.7 483.3 431.0 483.7" fill="none" stroke="#e04050" stroke-width="2.4" stroke-linejoin="round"/>
<path d="M495.2 389.1C495.9 389.5 498.1 390.1 499.6 391.3C501.1 392.5 502.0 395.5 504.1 396.5C506.2 397.5 509.9 397.2 512.2 397.2C514.5 397.2 516.5 396.0 518.1 396.5C519.7 397.0 520.6 398.8 521.9 400.2C523.1 401.6 524.2 402.9 525.6 404.6C527.0 406.3 528.8 407.6 530.0 410.6C531.2 413.6 532.1 418.6 533.0 422.4C533.9 426.2 534.2 431.3 535.2 433.5C536.2 435.7 537.8 435.7 538.9 435.7C540.0 435.7 540.7 434.7 541.9 433.5C543.1 432.3 544.3 429.5 546.3 428.3C548.3 427.1 551.0 427.3 553.7 426.1C556.4 424.9 559.9 422.1 562.6 420.9C565.3 419.7 566.5 419.4 570.0 418.7C573.5 418.0 580.6 416.5 583.3 416.5C586.0 416.5 585.4 417.4 586.3 418.7C587.2 419.9 587.8 420.9 588.5 424.0C589.2 427.1 589.7 432.0 590.4 437.2C591.1 442.4 592.1 450.8 592.6 455.0C593.1 459.2 592.7 458.8 593.2 462.6C593.7 466.4 594.5 475.2 595.8 477.6C597.1 480.0 599.6 477.7 601.1 476.7C602.6 475.7 603.4 473.8 604.6 471.4C605.8 469.0 606.7 465.8 608.2 462.6C609.7 459.4 612.0 454.7 613.5 452.0C615.0 449.3 615.7 448.1 617.0 446.5C618.3 444.9 619.0 443.3 621.5 442.4C624.0 441.5 629.2 441.0 631.9 440.9C634.6 440.8 636.2 440.8 637.8 441.7C639.4 442.6 640.3 444.1 641.5 446.1C642.7 448.2 644.0 450.9 645.2 454.0C646.4 457.1 647.2 461.1 648.7 464.4C650.2 467.7 651.6 471.5 653.9 474.0C656.2 476.5 659.8 477.7 662.7 479.3C665.6 480.9 669.0 482.7 671.5 483.7C674.0 484.7 676.7 485.2 677.7 485.5" fill="none" stroke="#e04050" stroke-width="2.4" stroke-linejoin="round"/>
<polyline points="495.6,253.9 498.1,252.9 500.4,253.9 504.8,251.7 509.3,250.2 513.7,248.7 519.6,248.0 524.8,245.7 530.0,247.2 534.4,250.9 538.1,252.4 543.3,250.9 550.7,248.7 556.7,246.5 564.8,242.8 566.7,244.0 571.5,244.3 577.4,240.6 585.9,241.6 589.6,242.0 591.9,247.2 594.1,256.1 596.7,267.2 598.5,266.5 600.7,260.6 605.9,256.9 608.1,252.4 614.1,248.7 617.8,245.0 623.0,246.5 627.4,248.7 631.9,253.9 635.6,256.9 638.1,260.6 640.7,253.9 643.0,252.4 647.4,260.6 651.1,272.4 653.3,283.5 658.5,293.1 662.0,298.0 665.0,303.3 670.0,310.8 674.2,316.7 676.7,321.7" fill="none" stroke="#e070c0" stroke-width="2.4" stroke-linejoin="round"/>
<polyline points="495.0,323.3 498.3,324.2 503.3,322.5 510.0,320.8 518.3,316.7 528.3,316.7 535.0,316.7 539.2,320.0 543.3,318.3 553.3,316.7 561.7,314.2 573.3,314.2 580.8,312.5 583.3,314.2 585.8,317.5 589.2,313.3 595.0,316.7 600.0,315.8 605.0,315.0 615.0,315.3 623.3,319.2 630.0,326.7 635.0,330.8 637.0,335.8 639.2,332.5 644.2,320.8 647.5,321.7 651.7,330.8 655.0,338.3 661.7,347.5 666.7,353.3 673.3,355.8 676.7,361.7" fill="none" stroke="#7070e0" stroke-width="2.4" stroke-linejoin="round"/>
<polyline points="246.7,293.1 251.9,294.6 259.3,295.4 277.0,296.9 284.4,298.3 291.1,301.3 303.7,300.9 312.6,299.8 314.1,296.1 315.6,299.6 321.5,300.4 328.9,298.6 335.0,297.4 342.1,296.6 345.2,300.5 349.2,305.2 355.5,307.3 358.6,306.3 364.9,311.5 371.2,312.3 375.1,311.5 380.6,306.3 385.4,309.2 394.8,310.0 400.3,310.7 404.2,320.2 407.4,325.7 415.3,332.0 423.1,340.6 431.0,347.7" fill="none" stroke="#f0d040" stroke-width="2.0" stroke-linejoin="round"/>
<path d="M246.7 399.4C248.0 400.1 251.7 402.0 254.8 403.9C257.9 405.8 262.2 409.0 265.2 410.6C268.2 412.2 270.1 411.8 272.6 413.5C275.1 415.2 278.0 417.9 280.0 420.9C282.0 423.9 283.2 427.8 284.4 431.3C285.6 434.8 285.9 438.6 287.4 441.7C288.9 444.8 291.2 447.6 293.3 450.0C295.4 452.4 297.8 454.6 300.0 455.8C302.2 457.1 303.4 457.2 306.7 457.5C310.0 457.8 316.4 457.8 320.0 457.5C323.6 457.2 325.8 456.8 328.3 455.8C330.8 454.8 332.7 451.5 335.0 451.5C337.3 451.5 339.9 451.0 342.0 455.6C344.1 460.2 345.5 474.2 347.3 479.3C349.1 484.4 350.8 485.5 352.6 486.4C354.4 487.3 355.8 483.8 357.9 484.6C359.9 485.4 362.3 489.9 364.9 491.1C367.5 492.3 371.0 494.6 373.7 491.7C376.4 488.8 378.4 477.4 380.8 474.0C383.2 470.6 385.5 470.9 387.8 471.4C390.1 471.8 392.5 474.6 394.9 476.7C397.2 478.8 400.1 481.1 401.9 483.7C403.6 486.3 403.9 491.9 405.4 492.5C406.9 493.1 408.3 487.6 410.7 487.3C413.1 487.0 416.1 489.5 419.5 490.8C422.9 492.1 429.1 494.5 431.0 495.2" fill="none" stroke="#f0d040" stroke-width="2.0" stroke-linejoin="round"/>
</g>
<polyline points="246.7,235.7 247.7,236.6 248.6,238.9 249.6,238.9 250.8,238.8 251.9,237.3 253.4,237.2 254.8,238.6 256.3,238.2 257.8,239.5 259.2,239.2 260.7,239.8 261.9,239.8 263.2,239.9 264.4,237.8 265.2,239.2 265.9,241.1 266.7,242.9 267.9,242.7 269.2,242.8 270.4,244.5 271.6,243.1 272.9,245.2 274.1,244.6 275.4,244.6 276.7,244.8 278.1,245.5 279.4,246.8 280.7,245.9 281.6,247.8 282.5,249.0 283.5,249.6 284.4,251.1 285.5,250.9 286.6,251.6 287.8,252.6 288.9,254.3 290.4,254.3 291.8,254.5 293.3,255.6 294.8,254.9 296.3,254.2 297.8,254.9 299.3,254.3 300.8,253.5 302.3,254.3 303.7,254.4 305.2,255.2 306.7,255.1 308.2,254.4 309.7,256.0 311.1,254.6 312.6,255.4 314.1,256.3 315.6,254.7 317.0,255.0 318.5,253.7 319.6,254.2 320.8,253.7 321.9,252.6 323.0,252.5 324.2,251.9 325.4,253.3 326.5,253.6 327.7,254.2 328.9,254.5 330.4,254.8 331.9,254.6 333.3,253.2 334.8,253.2 336.3,251.5 337.9,252.5 339.4,252.0 340.4,253.9 341.4,254.8 342.4,255.0 342.8,256.5 343.3,258.5 343.7,258.6 344.1,260.8 344.5,261.6 345.0,262.9 345.4,264.1 346.1,266.7 346.8,266.6 347.5,268.0 349.1,270.0 350.2,270.2 351.3,267.9 352.4,267.7 353.5,266.9 354.6,266.7 355.7,265.6 356.6,264.5 357.4,262.1 358.3,261.1 359.2,259.8 360.0,259.6 360.9,258.5 362.5,256.5 364.2,256.2 365.8,256.0 367.0,255.3 368.2,255.2 369.4,254.7 370.6,253.4 372.1,253.3 373.6,254.6 375.0,255.0 376.5,255.8 378.0,257.0 379.2,257.1 380.4,257.3 381.5,258.1 382.7,258.8 383.9,258.1 385.4,260.1 386.9,260.2 388.3,260.7 389.8,260.9 391.3,260.4 392.8,260.6 394.2,260.3 395.7,261.6 396.4,261.5 397.2,262.7 397.9,264.1 398.7,265.1 399.4,266.6 400.2,267.1 400.8,268.3 401.5,269.8 402.1,271.0 402.7,272.8 403.3,273.4 404.0,276.4 404.6,277.1 405.4,277.3 406.1,278.6 406.9,279.9 407.6,281.0 408.4,281.6 409.1,284.2 409.9,285.6 410.6,285.6 411.8,286.6 413.0,286.7 414.1,287.6 415.3,289.0 416.5,289.7 417.7,291.4 418.9,290.7 420.0,291.0 421.2,293.4 422.4,293.2 423.5,293.1 424.6,294.7 425.8,294.4 426.9,296.2 428.0,298.2 429.1,299.1 430.2,299.9 431.3,300.6" fill="none" stroke="#7a0c1a" stroke-width="1.15" stroke-linejoin="round"/>
<polyline points="246.0,274.2 247.4,274.8 248.9,274.9 250.4,275.5 251.9,274.7 253.3,274.7 254.8,273.6 256.1,273.4 257.5,274.3 258.8,274.5 260.2,274.2 261.5,274.0 262.9,274.0 264.2,273.8 265.6,272.9 266.9,273.3 268.3,272.9 269.6,272.3 271.1,272.5 272.6,273.0 274.1,273.1 275.5,273.9 277.0,274.5 278.5,273.8 279.7,275.2 281.0,275.9 282.2,276.5 283.4,276.2 284.7,276.5 285.9,277.2 287.4,277.7 288.9,278.2 290.4,279.4 291.9,280.4 293.2,280.3 294.6,279.8 295.9,280.0 297.2,280.3 298.5,279.1 299.9,280.1 301.2,280.5 302.5,280.3 303.9,280.2 305.2,279.8 306.7,277.5 308.2,278.2 309.7,277.2 311.1,277.6 312.6,277.6 314.1,276.4 315.4,276.3 316.7,277.1 318.0,276.6 319.3,275.6 320.6,275.4 321.9,275.4 323.2,276.5 324.5,276.2 326.0,274.8 327.5,275.5 328.9,275.4 330.4,274.5 331.9,273.7 333.4,274.4 334.9,274.1 336.3,274.2 337.8,276.2 339.1,275.4 340.4,274.9 341.7,275.3 342.4,275.8 343.2,277.9 343.9,279.1 344.7,279.5 345.4,280.9 345.9,282.3 346.4,283.6 346.9,285.5 347.3,286.3 347.8,287.9 348.3,288.8 349.8,290.5 351.3,290.0 352.6,289.9 353.9,289.8 355.2,290.0 356.5,289.0 357.8,289.5 359.1,288.6 360.4,288.3 361.7,288.0 362.9,288.4 364.2,290.2 365.4,290.9 366.6,290.0 367.7,290.7 368.9,289.1 370.0,289.0 371.2,288.8 372.3,287.9 373.5,286.9 374.4,286.2 375.3,285.2 376.2,284.5 377.1,282.4 378.0,282.1 379.2,282.2 380.5,282.9 381.7,284.3 382.9,284.5 384.2,285.2 385.4,286.1 386.7,287.1 388.0,287.1 389.3,288.1 390.6,288.7 391.8,287.8 393.1,287.2 394.3,285.9 395.8,287.0 397.2,287.8 398.7,289.4 399.2,290.3 399.7,291.8 400.1,293.2 400.6,293.4 401.1,295.1 401.8,296.9 402.4,297.9 403.1,297.9 403.7,299.1 404.4,300.7 405.0,301.3 405.8,302.9 406.6,304.0 407.4,306.3 408.5,307.4 409.7,308.4 410.8,308.1 411.9,309.9 413.0,310.8 414.2,310.8 415.3,312.9 416.1,314.2 416.9,314.2 417.6,316.6 418.4,316.9 419.2,318.2 419.9,320.2 420.7,321.1 421.5,321.3 422.5,322.6 423.5,323.6 424.5,324.2 425.4,324.8 426.4,325.9 427.4,327.4 428.4,327.2 429.4,328.9 431.0,330.0" fill="none" stroke="#000" stroke-width="1.15" stroke-linejoin="round"/>
<polyline points="246.7,293.0 248.0,292.8 249.3,293.6 250.6,294.4 251.9,294.6 253.4,294.2 254.9,295.6 256.3,295.5 257.8,295.9 259.3,294.8 260.7,295.2 262.0,295.0 263.4,296.1 264.7,295.5 266.1,295.5 267.5,296.0 268.8,296.8 270.2,296.8 271.6,296.1 272.9,296.1 274.3,297.3 275.6,296.9 277.0,297.2 278.5,296.6 280.0,296.8 281.4,298.0 282.9,297.9 284.4,297.7 285.7,299.5 287.1,299.7 288.4,300.5 289.8,300.1 291.1,301.8 292.5,300.6 293.9,301.7 295.3,301.1 296.7,300.9 298.1,301.2 299.5,301.6 300.9,300.7 302.3,300.4 303.7,300.9 305.2,300.4 306.7,300.0 308.1,299.9 309.6,299.5 311.1,299.6 312.6,299.5 313.1,298.3 313.6,297.7 314.1,295.8 314.9,297.9 315.6,299.1 317.1,299.6 318.6,299.3 320.0,299.9 321.5,299.7 323.0,300.4 324.5,299.8 325.9,298.9 327.4,298.9 328.9,299.2 330.4,297.7 331.9,298.4 333.5,297.6 335.0,297.4 336.4,297.7 337.8,296.9 339.3,296.9 340.7,297.0 342.1,297.3 343.1,297.7 344.2,299.7 345.2,300.8 346.2,301.9 347.2,302.7 348.2,303.8 349.2,304.6 350.5,305.1 351.7,305.4 353.0,306.8 354.2,306.5 355.5,306.8 357.1,306.2 358.6,306.8 359.7,307.7 360.7,308.3 361.8,308.6 362.8,309.4 363.8,310.3 364.9,311.4 366.5,311.2 368.0,311.8 369.6,311.8 371.2,312.9 372.5,312.7 373.8,311.8 375.1,311.1 376.2,311.1 377.3,309.2 378.4,308.2 379.5,306.6 380.6,306.1 381.8,307.0 383.0,307.8 384.2,308.1 385.4,309.2 386.7,308.6 388.1,309.1 389.4,309.0 390.8,309.5 392.1,309.1 393.5,309.2 394.8,309.7 396.2,309.8 397.6,310.5 398.9,310.6 400.3,311.1 400.9,312.3 401.4,313.7 402.0,315.3 402.5,316.0 403.1,317.2 403.6,319.5 404.2,319.7 405.0,321.9 405.8,323.2 406.6,323.7 407.4,326.2 408.5,327.1 409.7,327.7 410.8,328.7 411.9,329.7 413.0,329.7 414.2,331.1 415.3,332.0 416.3,333.5 417.2,334.6 418.2,335.7 419.2,336.4 420.2,337.9 421.2,338.7 422.1,339.8 423.1,340.2 424.1,340.8 425.1,341.9 426.1,343.1 427.1,343.6 428.0,345.5 429.0,346.0 430.0,347.0 431.0,347.7" fill="none" stroke="#c8a428" stroke-width="1.0" stroke-linejoin="round"/>
<path d="M245.9 387.6C246.5 388.0 248.2 388.5 249.6 389.8C251.0 391.1 252.5 394.6 254.1 395.7C255.7 396.8 256.5 396.4 259.3 396.5C262.1 396.6 268.6 395.9 271.1 396.5C273.6 397.1 272.9 398.7 274.1 400.2C275.3 401.7 277.0 403.4 278.5 405.4C280.0 407.4 281.9 409.2 283.0 412.0C284.1 414.8 284.5 418.7 285.2 422.4C285.9 426.1 286.4 432.1 287.4 434.3C288.4 436.5 289.9 436.0 291.1 435.4C292.3 434.8 293.4 432.0 294.8 430.6C296.2 429.2 297.1 428.0 299.3 427.1C301.5 426.2 305.6 426.7 308.1 425.4C310.6 424.1 311.6 420.8 314.1 419.4C316.6 418.0 319.6 417.9 323.0 417.2C326.4 416.5 332.2 415.2 334.8 415.3C337.4 415.4 337.6 416.1 338.7 418.0C339.8 419.9 340.8 422.9 341.7 426.9C342.6 430.8 343.2 436.0 343.9 441.7C344.5 447.4 344.7 455.0 345.6 460.8C346.5 466.6 347.9 473.9 349.1 476.7C350.3 479.5 351.1 478.8 352.6 477.6C354.1 476.4 356.0 473.3 357.9 469.6C359.8 465.9 362.1 459.8 364.0 455.6C365.9 451.4 367.3 446.9 369.1 444.6C370.9 442.3 372.0 442.5 375.0 441.7C378.0 440.9 384.2 439.8 386.9 439.9C389.6 440.0 389.9 441.1 391.3 442.4C392.7 443.7 393.8 445.4 395.0 447.6C396.2 449.8 396.7 451.9 398.4 455.6C400.1 459.3 403.0 466.2 405.4 469.6C407.8 473.0 409.6 473.9 412.5 475.8C415.4 477.7 419.9 479.8 423.0 481.1C426.1 482.4 429.7 483.3 431.0 483.7" fill="none" stroke="#701424" stroke-width="1.15" stroke-linejoin="round"/>
<path d="M246.7 399.4C248.0 400.1 251.7 402.0 254.8 403.9C257.9 405.8 262.2 409.0 265.2 410.6C268.2 412.2 270.1 411.8 272.6 413.5C275.1 415.2 278.0 417.9 280.0 420.9C282.0 423.9 283.2 427.8 284.4 431.3C285.6 434.8 285.9 438.6 287.4 441.7C288.9 444.8 291.2 447.6 293.3 450.0C295.4 452.4 297.8 454.6 300.0 455.8C302.2 457.1 303.4 457.2 306.7 457.5C310.0 457.8 316.4 457.8 320.0 457.5C323.6 457.2 325.8 456.8 328.3 455.8C330.8 454.8 332.7 451.5 335.0 451.5C337.3 451.5 339.9 451.0 342.0 455.6C344.1 460.2 345.5 474.2 347.3 479.3C349.1 484.4 350.8 485.5 352.6 486.4C354.4 487.3 355.8 483.8 357.9 484.6C359.9 485.4 362.3 489.9 364.9 491.1C367.5 492.3 371.0 494.6 373.7 491.7C376.4 488.8 378.4 477.4 380.8 474.0C383.2 470.6 385.5 470.9 387.8 471.4C390.1 471.8 392.5 474.6 394.9 476.7C397.2 478.8 400.1 481.1 401.9 483.7C403.6 486.3 403.9 491.9 405.4 492.5C406.9 493.1 408.3 487.6 410.7 487.3C413.1 487.0 416.1 489.5 419.5 490.8C422.9 492.1 429.1 494.5 431.0 495.2" fill="none" stroke="#c8a428" stroke-width="1.0" stroke-linejoin="round"/>
<path d="M245.9 444.3C247.4 444.5 250.9 445.0 254.8 445.4C258.8 445.8 265.2 446.5 269.6 446.9C274.1 447.3 278.8 447.2 281.5 447.6C284.2 448.0 282.9 449.2 285.9 449.4C288.9 449.6 295.1 449.0 299.3 448.8C303.5 448.6 306.2 448.2 311.1 448.3C316.0 448.4 324.9 449.1 328.9 449.1C332.9 449.1 332.8 448.0 335.0 448.5C337.2 449.0 340.8 451.4 342.0 452.0" fill="none" stroke="#000" stroke-width="1.9" stroke-linejoin="round"/>
<path d="M342.0 452.0C343.2 453.8 346.5 460.4 349.1 462.6C351.8 464.8 355.0 464.5 357.9 465.2C360.8 465.9 364.3 467.3 366.7 467.0C369.1 466.7 369.6 465.1 372.0 463.5C374.4 461.9 377.6 458.3 380.8 457.3C384.0 456.3 388.4 457.1 391.3 457.7C394.2 458.3 396.2 458.9 398.4 460.8C400.6 462.7 402.4 467.6 404.5 468.8C406.6 470.0 408.5 467.3 410.7 467.9C412.9 468.5 415.6 470.8 417.7 472.3C419.8 473.8 420.8 475.4 423.0 476.7C425.2 478.0 429.7 479.6 431.0 480.2" fill="none" stroke="#000" stroke-width="1.2" stroke-linejoin="round"/>
<polyline points="495.6,254.1 496.9,253.7 498.1,252.9 500.4,253.2 501.9,253.6 503.3,252.8 504.8,251.7 506.3,251.2 507.8,250.9 509.3,249.6 510.8,250.0 512.2,248.9 513.7,248.1 515.2,248.2 516.7,248.7 518.1,247.8 519.6,248.3 520.9,248.1 522.2,246.8 523.5,246.1 524.8,245.7 526.1,246.3 527.4,246.8 528.7,247.0 530.0,247.4 531.1,247.5 532.2,248.6 533.3,249.6 534.4,251.2 535.6,251.1 536.9,252.0 538.1,251.7 539.4,251.4 540.7,251.3 542.0,251.5 543.3,251.2 544.8,250.7 546.3,249.7 547.7,249.6 549.2,249.1 550.7,248.7 552.2,247.6 553.7,248.2 555.2,246.6 556.7,247.2 558.1,246.5 559.4,244.6 560.8,244.6 562.1,244.5 563.4,244.1 564.8,242.7 566.7,243.7 568.3,243.7 569.9,244.8 571.5,243.9 572.7,243.7 573.9,242.3 575.0,242.1 576.2,242.0 577.4,240.1 578.8,241.2 580.2,240.9 581.6,241.6 583.1,241.6 584.5,241.1 585.9,242.2 587.8,241.8 589.6,241.3 590.2,242.6 590.8,244.6 591.3,245.8 591.9,246.9 592.2,248.0 592.5,249.5 592.8,250.8 593.2,252.8 593.5,252.9 593.8,255.2 594.1,256.6 594.4,257.0 594.8,259.5 595.1,260.6 595.4,262.2 595.7,262.7 596.1,264.2 596.4,265.7 596.7,267.9 598.5,266.6 599.0,264.8 599.6,263.4 600.2,261.8 600.7,260.0 602.0,259.1 603.3,259.2 604.6,257.5 605.9,257.5 606.6,255.0 607.4,253.6 608.1,252.4 609.3,251.2 610.5,250.7 611.7,250.8 612.9,250.0 614.1,249.1 615.0,248.0 616.0,247.4 616.9,246.5 617.8,245.1 619.1,245.7 620.4,245.1 621.7,246.5 623.0,246.4 624.5,247.6 625.9,248.2 627.4,248.4 628.3,249.1 629.2,251.4 630.1,251.3 631.0,252.8 631.9,253.7 633.1,254.6 634.4,256.2 635.6,257.6 636.4,257.8 637.3,259.6 638.1,260.3 638.6,259.3 639.1,257.8 639.7,256.1 640.2,254.8 640.7,253.5 641.9,253.7 643.0,252.4 643.6,253.2 644.3,255.3 644.9,256.6 645.5,257.0 646.1,257.8 646.8,259.0 647.4,260.0 647.8,261.7 648.2,262.6 648.6,264.2 649.0,265.5 649.5,267.3 649.9,269.0 650.3,270.1 650.7,271.0 651.1,272.3 651.4,273.8 651.6,275.0 651.9,276.3 652.2,277.3 652.5,279.0 652.8,281.4 653.0,281.6 653.3,283.5 653.9,284.9 654.6,286.4 655.2,286.7 655.9,288.0 656.5,289.1 657.2,290.6 657.9,291.8 658.5,293.7 659.4,294.8 660.2,296.1 661.1,296.1 662.0,297.3 662.8,299.6 663.5,301.2 664.2,301.9 665.0,303.4 665.8,303.9 666.7,305.6 667.5,307.6 668.3,308.8 669.2,310.0 670.0,311.5 670.8,311.6 671.7,312.6 672.5,313.9 673.4,315.6 674.2,317.0 674.8,318.6 675.5,319.5 676.1,320.7 676.7,321.7" fill="none" stroke="#2a0c28" stroke-width="1.15" stroke-linejoin="round"/>
<polyline points="495.0,323.7 496.6,323.7 498.3,324.3 499.6,323.1 500.8,323.7 502.1,322.6 503.3,323.1 504.6,322.4 506.0,321.5 507.3,321.0 508.7,320.8 510.0,321.0 511.2,320.5 512.4,319.1 513.6,318.4 514.7,318.5 515.9,318.0 517.1,317.1 518.3,316.3 519.7,316.8 521.2,316.0 522.6,316.4 524.0,316.6 525.4,317.3 526.9,316.9 528.3,317.2 529.6,316.7 531.0,316.3 532.3,316.3 533.7,317.3 535.0,317.0 536.0,317.3 537.1,317.7 538.2,319.2 539.2,320.2 540.6,319.3 541.9,318.5 543.3,318.5 544.7,318.7 546.2,317.5 547.6,317.0 549.0,317.2 550.4,317.0 551.9,317.2 553.3,316.3 554.7,316.7 556.1,316.2 557.5,315.5 558.9,314.6 560.3,315.3 561.7,313.9 563.2,314.6 564.6,313.8 566.0,313.8 567.5,314.6 569.0,313.9 570.4,314.8 571.8,314.2 573.3,313.8 574.8,313.5 576.3,313.4 577.8,313.4 579.3,313.5 580.8,312.0 582.0,313.2 583.3,313.8 584.1,316.0 585.0,315.9 585.8,316.9 586.6,315.8 587.5,315.3 588.4,314.9 589.2,313.8 590.4,314.3 591.5,315.4 592.7,315.9 593.8,315.8 595.0,316.3 596.7,317.0 598.3,316.4 600.0,315.1 601.7,315.8 603.3,315.1 605.0,314.8 606.4,314.8 607.9,314.6 609.3,314.4 610.7,314.9 612.1,315.0 613.6,315.9 615.0,314.8 616.2,316.5 617.4,316.0 618.6,316.8 619.7,318.0 620.9,318.5 622.1,318.5 623.3,318.6 624.3,320.2 625.2,321.2 626.2,323.0 627.1,323.1 628.1,324.4 629.0,326.2 630.0,326.0 631.2,327.6 632.5,329.2 633.8,330.1 635.0,330.2 635.5,331.4 636.0,332.7 636.5,335.1 637.0,335.5 637.7,335.0 638.5,334.2 639.2,332.3 639.8,330.9 640.3,330.5 640.9,328.8 641.4,327.0 642.0,326.3 642.5,324.4 643.1,323.1 643.6,321.4 644.2,321.2 645.9,321.8 647.5,321.9 648.1,323.6 648.7,323.6 649.3,325.2 649.9,326.9 650.5,328.8 651.1,330.1 651.7,330.6 652.2,331.7 652.8,333.2 653.4,334.5 653.9,336.4 654.5,336.6 655.0,338.7 655.8,339.8 656.7,341.1 657.5,342.1 658.4,343.1 659.2,343.8 660.0,344.9 660.9,346.2 661.7,347.9 662.7,348.1 663.7,349.4 664.7,351.3 665.7,351.8 666.7,352.7 668.0,353.1 669.3,354.4 670.7,354.6 672.0,356.0 673.3,356.3 674.0,357.7 674.7,357.8 675.3,358.8 676.0,360.0 676.7,361.7" fill="none" stroke="#14144e" stroke-width="1.15" stroke-linejoin="round"/>
<path d="M495.2 389.1C495.9 389.5 498.1 390.1 499.6 391.3C501.1 392.5 502.0 395.5 504.1 396.5C506.2 397.5 509.9 397.2 512.2 397.2C514.5 397.2 516.5 396.0 518.1 396.5C519.7 397.0 520.6 398.8 521.9 400.2C523.1 401.6 524.2 402.9 525.6 404.6C527.0 406.3 528.8 407.6 530.0 410.6C531.2 413.6 532.1 418.6 533.0 422.4C533.9 426.2 534.2 431.3 535.2 433.5C536.2 435.7 537.8 435.7 538.9 435.7C540.0 435.7 540.7 434.7 541.9 433.5C543.1 432.3 544.3 429.5 546.3 428.3C548.3 427.1 551.0 427.3 553.7 426.1C556.4 424.9 559.9 422.1 562.6 420.9C565.3 419.7 566.5 419.4 570.0 418.7C573.5 418.0 580.6 416.5 583.3 416.5C586.0 416.5 585.4 417.4 586.3 418.7C587.2 419.9 587.8 420.9 588.5 424.0C589.2 427.1 589.7 432.0 590.4 437.2C591.1 442.4 592.1 450.8 592.6 455.0C593.1 459.2 592.7 458.8 593.2 462.6C593.7 466.4 594.5 475.2 595.8 477.6C597.1 480.0 599.6 477.7 601.1 476.7C602.6 475.7 603.4 473.8 604.6 471.4C605.8 469.0 606.7 465.8 608.2 462.6C609.7 459.4 612.0 454.7 613.5 452.0C615.0 449.3 615.7 448.1 617.0 446.5C618.3 444.9 619.0 443.3 621.5 442.4C624.0 441.5 629.2 441.0 631.9 440.9C634.6 440.8 636.2 440.8 637.8 441.7C639.4 442.6 640.3 444.1 641.5 446.1C642.7 448.2 644.0 450.9 645.2 454.0C646.4 457.1 647.2 461.1 648.7 464.4C650.2 467.7 651.6 471.5 653.9 474.0C656.2 476.5 659.8 477.7 662.7 479.3C665.6 480.9 669.0 482.7 671.5 483.7C674.0 484.7 676.7 485.2 677.7 485.5" fill="none" stroke="#701424" stroke-width="1.15" stroke-linejoin="round"/>
<path d="M495.3 472.3C496.2 471.9 498.6 470.3 500.6 469.6C502.7 468.9 505.0 468.6 507.6 467.9C510.2 467.2 513.5 466.1 516.4 465.2C519.3 464.3 522.6 463.3 525.2 462.6C527.9 461.9 530.1 461.4 532.3 461.2C534.5 461.0 537.2 461.2 538.4 461.7C539.6 462.2 538.9 464.4 539.3 464.4C539.6 464.4 539.0 462.2 540.5 461.5C542.0 460.8 544.8 460.8 548.1 460.0C551.4 459.2 556.6 457.8 560.4 457.0C564.2 456.2 567.8 455.6 571.0 455.2C574.2 454.8 577.6 454.3 579.8 454.7C582.0 455.1 582.9 456.5 584.0 457.5C585.1 458.5 585.2 461.3 586.3 460.8C587.4 460.3 588.1 455.7 590.6 454.7C593.1 453.7 597.7 454.3 601.1 454.7C604.5 455.1 607.3 456.3 610.8 457.3C614.3 458.3 618.9 459.3 622.3 460.8C625.7 462.3 628.8 464.0 631.1 466.1C633.4 468.2 634.7 473.4 636.3 473.2C637.9 473.0 639.1 467.7 640.7 465.2C642.3 462.7 644.1 458.6 646.0 458.2C647.9 457.8 650.6 461.3 652.2 462.6C653.8 463.9 654.6 465.8 655.7 466.1C656.8 466.4 657.2 463.3 659.0 464.5C660.8 465.7 664.2 472.1 666.3 473.2C668.4 474.3 669.6 470.4 671.5 471.4C673.4 472.4 676.7 478.0 677.7 479.3" fill="none" stroke="#1a1c60" stroke-width="1.4" stroke-linejoin="round" stroke-dasharray="22 1.6"/>
<polygon points="534.4,433.5 533.0,443.4 530.2,440.4 524.0,446.1 521.2,443.1 527.3,437.3 524.5,434.3" fill="#ee1420"/>
<polygon points="583.3,456.4 582.7,466.3 579.6,463.6 576.1,467.5 572.9,464.7 576.5,460.8 573.5,458.0" fill="#ee1420"/>
<polygon points="596.7,478.5 595.2,488.3 592.4,485.3 586.7,490.5 583.9,487.5 589.5,482.2 586.8,479.2" fill="#ee1420"/>
<text x="241.1" y="234.0" font-size="9.3" text-anchor="end" fill="#000" font-weight="bold" textLength="13" lengthAdjust="spacingAndGlyphs">1.3</text>
<text x="241.1" y="266.57500000000005" font-size="9.3" text-anchor="end" fill="#000" font-weight="bold" textLength="13" lengthAdjust="spacingAndGlyphs">1.2</text>
<text x="241.1" y="299.15" font-size="9.3" text-anchor="end" fill="#000" font-weight="bold" textLength="13" lengthAdjust="spacingAndGlyphs">1.1</text>
<text x="241.1" y="331.725" font-size="9.3" text-anchor="end" fill="#000" font-weight="bold" textLength="13" lengthAdjust="spacingAndGlyphs">1.0</text>
<text x="241.1" y="364.3" font-size="9.3" text-anchor="end" fill="#000" font-weight="bold" textLength="13" lengthAdjust="spacingAndGlyphs">0.9</text>
<text x="240.2" y="514.4" font-size="8.8" text-anchor="end" fill="#000" font-weight="normal" textLength="11.6" lengthAdjust="spacingAndGlyphs" class="b2">0.0</text>
<text x="240.2" y="488.59999999999997" font-size="8.8" text-anchor="end" fill="#000" font-weight="normal" textLength="11.6" lengthAdjust="spacingAndGlyphs" class="b2">0.2</text>
<text x="240.2" y="462.79999999999995" font-size="8.8" text-anchor="end" fill="#000" font-weight="normal" textLength="11.6" lengthAdjust="spacingAndGlyphs" class="b2">0.4</text>
<text x="240.2" y="437.0" font-size="8.8" text-anchor="end" fill="#000" font-weight="normal" textLength="11.6" lengthAdjust="spacingAndGlyphs" class="b2">0.6</text>
<text x="240.2" y="411.2" font-size="8.8" text-anchor="end" fill="#000" font-weight="normal" textLength="11.6" lengthAdjust="spacingAndGlyphs" class="b2">0.8</text>
<text x="240.2" y="385.4" font-size="8.8" text-anchor="end" fill="#000" font-weight="normal" textLength="11.6" lengthAdjust="spacingAndGlyphs" class="b2">1.0</text>
<text x="489.4" y="244.98942857142853" font-size="9.3" text-anchor="end" fill="#000" font-weight="normal" textLength="18.3" lengthAdjust="spacingAndGlyphs" class="b">1.30</text>
<text x="489.4" y="263.26085714285716" font-size="9.3" text-anchor="end" fill="#000" font-weight="normal" textLength="18.3" lengthAdjust="spacingAndGlyphs" class="b">1.25</text>
<text x="489.4" y="281.53228571428576" font-size="9.3" text-anchor="end" fill="#000" font-weight="normal" textLength="18.3" lengthAdjust="spacingAndGlyphs" class="b">1.20</text>
<text x="489.4" y="299.8037142857143" font-size="9.3" text-anchor="end" fill="#000" font-weight="normal" textLength="18.3" lengthAdjust="spacingAndGlyphs" class="b">1.15</text>
<text x="489.4" y="318.07514285714285" font-size="9.3" text-anchor="end" fill="#000" font-weight="normal" textLength="18.3" lengthAdjust="spacingAndGlyphs" class="b">1.10</text>
<text x="489.4" y="336.34657142857145" font-size="9.3" text-anchor="end" fill="#000" font-weight="normal" textLength="18.3" lengthAdjust="spacingAndGlyphs" class="b">1.05</text>
<text x="489.4" y="354.618" font-size="9.3" text-anchor="end" fill="#000" font-weight="normal" textLength="18.3" lengthAdjust="spacingAndGlyphs" class="b">1.00</text>
<text x="488.9" y="514.5" font-size="9.3" text-anchor="end" fill="#000" font-weight="normal" textLength="12.8" lengthAdjust="spacingAndGlyphs" class="b2">0.0</text>
<text x="488.9" y="488.84" font-size="9.3" text-anchor="end" fill="#000" font-weight="normal" textLength="12.8" lengthAdjust="spacingAndGlyphs" class="b2">0.2</text>
<text x="488.9" y="463.18" font-size="9.3" text-anchor="end" fill="#000" font-weight="normal" textLength="12.8" lengthAdjust="spacingAndGlyphs" class="b2">0.4</text>
<text x="488.9" y="437.52" font-size="9.3" text-anchor="end" fill="#000" font-weight="normal" textLength="12.8" lengthAdjust="spacingAndGlyphs" class="b2">0.6</text>
<text x="488.9" y="411.86" font-size="9.3" text-anchor="end" fill="#000" font-weight="normal" textLength="12.8" lengthAdjust="spacingAndGlyphs" class="b2">0.8</text>
<text x="488.9" y="386.2" font-size="9.3" text-anchor="end" fill="#000" font-weight="normal" textLength="12.8" lengthAdjust="spacingAndGlyphs" class="b2">1.0</text>
<text x="258.2" y="371.8" font-size="10.3" text-anchor="middle" fill="#000" font-weight="bold" textLength="13" lengthAdjust="spacingAndGlyphs">1.2</text>
<text x="258.2" y="521.6" font-size="9.0" text-anchor="middle" fill="#000" font-weight="bold" textLength="12.7" lengthAdjust="spacingAndGlyphs">1.2</text>
<text x="506.8" y="372.4" font-size="8.8" text-anchor="middle" fill="#000" font-weight="normal" textLength="11.3" lengthAdjust="spacingAndGlyphs" class="b">1.2</text>
<text x="506.8" y="521.2" font-size="8.3" text-anchor="middle" fill="#000" font-weight="normal" textLength="11.3" lengthAdjust="spacingAndGlyphs" class="b">1.2</text>
<text x="283.0" y="371.8" font-size="10.3" text-anchor="middle" fill="#000" font-weight="bold" textLength="13" lengthAdjust="spacingAndGlyphs">1.4</text>
<text x="283.0" y="521.6" font-size="9.0" text-anchor="middle" fill="#000" font-weight="bold" textLength="12.7" lengthAdjust="spacingAndGlyphs">1.4</text>
<text x="531.3" y="372.4" font-size="8.8" text-anchor="middle" fill="#000" font-weight="normal" textLength="11.3" lengthAdjust="spacingAndGlyphs" class="b">1.4</text>
<text x="531.3" y="521.2" font-size="8.3" text-anchor="middle" fill="#000" font-weight="normal" textLength="11.3" lengthAdjust="spacingAndGlyphs" class="b">1.4</text>
<text x="307.9" y="371.8" font-size="10.3" text-anchor="middle" fill="#000" font-weight="bold" textLength="13" lengthAdjust="spacingAndGlyphs">1.6</text>
<text x="307.9" y="521.6" font-size="9.0" text-anchor="middle" fill="#000" font-weight="bold" textLength="12.7" lengthAdjust="spacingAndGlyphs">1.6</text>
<text x="555.8" y="372.4" font-size="8.8" text-anchor="middle" fill="#000" font-weight="normal" textLength="11.3" lengthAdjust="spacingAndGlyphs" class="b">1.6</text>
<text x="555.8" y="521.2" font-size="8.3" text-anchor="middle" fill="#000" font-weight="normal" textLength="11.3" lengthAdjust="spacingAndGlyphs" class="b">1.6</text>
<text x="332.7" y="371.8" font-size="10.3" text-anchor="middle" fill="#000" font-weight="bold" textLength="13" lengthAdjust="spacingAndGlyphs">1.8</text>
<text x="332.7" y="521.6" font-size="9.0" text-anchor="middle" fill="#000" font-weight="bold" textLength="12.7" lengthAdjust="spacingAndGlyphs">1.8</text>
<text x="580.2" y="372.4" font-size="8.8" text-anchor="middle" fill="#000" font-weight="normal" textLength="11.3" lengthAdjust="spacingAndGlyphs" class="b">1.8</text>
<text x="580.2" y="521.2" font-size="8.3" text-anchor="middle" fill="#000" font-weight="normal" textLength="11.3" lengthAdjust="spacingAndGlyphs" class="b">1.8</text>
<text x="357.5" y="371.8" font-size="10.3" text-anchor="middle" fill="#000" font-weight="bold" textLength="13" lengthAdjust="spacingAndGlyphs">2.0</text>
<text x="357.5" y="521.6" font-size="9.0" text-anchor="middle" fill="#000" font-weight="bold" textLength="12.7" lengthAdjust="spacingAndGlyphs">2.0</text>
<text x="604.7" y="372.4" font-size="8.8" text-anchor="middle" fill="#000" font-weight="normal" textLength="11.3" lengthAdjust="spacingAndGlyphs" class="b">2.0</text>
<text x="604.7" y="521.2" font-size="8.3" text-anchor="middle" fill="#000" font-weight="normal" textLength="11.3" lengthAdjust="spacingAndGlyphs" class="b">2.0</text>
<text x="382.3" y="371.8" font-size="10.3" text-anchor="middle" fill="#000" font-weight="bold" textLength="13" lengthAdjust="spacingAndGlyphs">2.2</text>
<text x="382.3" y="521.6" font-size="9.0" text-anchor="middle" fill="#000" font-weight="bold" textLength="12.7" lengthAdjust="spacingAndGlyphs">2.2</text>
<text x="629.2" y="372.4" font-size="8.8" text-anchor="middle" fill="#000" font-weight="normal" textLength="11.3" lengthAdjust="spacingAndGlyphs" class="b">2.2</text>
<text x="629.2" y="521.2" font-size="8.3" text-anchor="middle" fill="#000" font-weight="normal" textLength="11.3" lengthAdjust="spacingAndGlyphs" class="b">2.2</text>
<text x="407.2" y="371.8" font-size="10.3" text-anchor="middle" fill="#000" font-weight="bold" textLength="13" lengthAdjust="spacingAndGlyphs">2.4</text>
<text x="407.2" y="521.6" font-size="9.0" text-anchor="middle" fill="#000" font-weight="bold" textLength="12.7" lengthAdjust="spacingAndGlyphs">2.4</text>
<text x="653.6" y="372.4" font-size="8.8" text-anchor="middle" fill="#000" font-weight="normal" textLength="11.3" lengthAdjust="spacingAndGlyphs" class="b">2.4</text>
<text x="653.6" y="521.2" font-size="8.3" text-anchor="middle" fill="#000" font-weight="normal" textLength="11.3" lengthAdjust="spacingAndGlyphs" class="b">2.4</text>
<text x="432.0" y="371.8" font-size="10.3" text-anchor="middle" fill="#000" font-weight="bold" textLength="13" lengthAdjust="spacingAndGlyphs">2.6</text>
<text x="432.0" y="521.6" font-size="9.0" text-anchor="middle" fill="#000" font-weight="bold" textLength="12.7" lengthAdjust="spacingAndGlyphs">2.6</text>
<text x="678.1" y="372.4" font-size="8.8" text-anchor="middle" fill="#000" font-weight="normal" textLength="11.3" lengthAdjust="spacingAndGlyphs" class="b">2.6</text>
<text x="678.1" y="521.2" font-size="8.3" text-anchor="middle" fill="#000" font-weight="normal" textLength="11.3" lengthAdjust="spacingAndGlyphs" class="b">2.6</text>
<text x="326" y="226.7" font-size="10.8" text-anchor="middle" fill="#000" font-weight="bold">A</text>
<text x="583" y="226.7" font-size="10.5" text-anchor="middle" fill="#000" font-weight="normal">B</text>
<text x="193.3" y="299.5" font-size="13.8" text-anchor="middle" fill="#000" font-weight="normal" transform="rotate(-90 193.3 299.5)" textLength="32.5" lengthAdjust="spacingAndGlyphs">Mars</text>
<text x="192.2" y="442.9" font-size="13.8" text-anchor="middle" fill="#000" font-weight="normal" transform="rotate(-90 192.2 442.9)" textLength="68.7" lengthAdjust="spacingAndGlyphs">laboratory</text>
<text x="219.3" y="294.2" font-size="8.6" text-anchor="middle" fill="#000" font-weight="bold" transform="rotate(-90 219.3 294.2)" textLength="60" lengthAdjust="spacingAndGlyphs">CRSIM I/F Ratio</text>
<text x="222.2" y="445.4" font-size="8.6" text-anchor="middle" fill="#000" font-weight="normal" transform="rotate(-90 222.2 445.4)" textLength="72.5" lengthAdjust="spacingAndGlyphs" class="b">Laboratory Spectra</text>
<text x="444.3" y="293" font-size="9.5" text-anchor="middle" fill="#000" font-weight="normal" transform="rotate(-90 444.3 293)" textLength="59" lengthAdjust="spacingAndGlyphs">Volcano Scan</text>
<text x="467.8" y="291" font-size="8.4" text-anchor="middle" fill="#000" font-weight="bold" transform="rotate(-90 467.8 291)" textLength="61" lengthAdjust="spacingAndGlyphs">CRISM I/F Ratio</text>
<text x="472" y="446.2" font-size="8.6" text-anchor="middle" fill="#000" font-weight="normal" transform="rotate(-90 472 446.2)" textLength="72.5" lengthAdjust="spacingAndGlyphs" class="b">Laboratory Spectra</text>
<text x="691.6" y="294.2" font-size="9.5" text-anchor="middle" fill="#000" font-weight="normal" transform="rotate(-90 691.6 294.2)" textLength="59" lengthAdjust="spacingAndGlyphs">Volcano Scan</text>
<text x="250" y="344.0" font-size="7.6" text-anchor="start" fill="#000" font-weight="normal" textLength="35.2" lengthAdjust="spacingAndGlyphs" class="b">5x5 pixels</text>
<text x="500" y="342.6" font-size="7.6" text-anchor="start" fill="#333" font-weight="normal" textLength="35" lengthAdjust="spacingAndGlyphs">5x5 pixels</text>
<text x="255" y="475.8" font-size="8.2" text-anchor="start" fill="#b02030" font-weight="normal" textLength="43" lengthAdjust="spacingAndGlyphs" class="r">Hexahydrite</text>
<text x="255" y="484.8" font-size="8.2" text-anchor="start" fill="#d8a020" font-weight="normal" textLength="26" lengthAdjust="spacingAndGlyphs" class="y">Kieserite</text>
<text x="255" y="493.6" font-size="8.2" text-anchor="start" fill="#000" font-weight="normal" textLength="47" lengthAdjust="spacingAndGlyphs" class="b">Szomolnokite</text>
<text x="497.9" y="490.6" font-size="8.2" text-anchor="start" fill="#901828" font-weight="normal" textLength="41.4" lengthAdjust="spacingAndGlyphs" class="r">Hexahydrite</text>
<text x="497.9" y="500.2" font-size="8.2" text-anchor="start" fill="#141450" font-weight="normal" textLength="32.6" lengthAdjust="spacingAndGlyphs" class="n">K-jarosite</text>
<text x="335.5" y="534.8" font-size="8.8" text-anchor="middle" fill="#000" font-weight="bold" textLength="101" lengthAdjust="spacingAndGlyphs">Wavelength (micrometers)</text>
<text x="583.4" y="534.8" font-size="8.8" text-anchor="middle" fill="#000" font-weight="bold" textLength="99" lengthAdjust="spacingAndGlyphs">Wavelength (micrometers)</text>
</svg>
</body></html>
